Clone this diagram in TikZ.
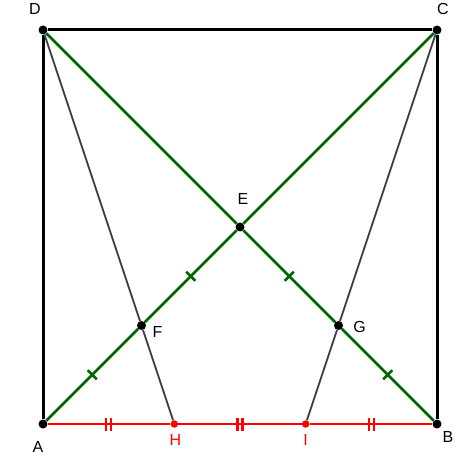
\documentclass[tikz,border=0pt]{standalone}
\usepackage{fontspec}
\setmainfont{Liberation Sans}
\usetikzlibrary{calc}
\definecolor{geogreen}{RGB}{0,100,0}
\definecolor{geogray}{RGB}{64,64,64}
\definecolor{geored}{RGB}{255,0,0}
\begin{document}
\begin{tikzpicture}[x=1pt,y=1pt,
  pt/.style={circle, fill, inner sep=0pt, minimum size=9pt},
  lbl/.style={font=\fontsize{16}{19}\selectfont, inner sep=0pt},
  side/.style={line width=3pt},
  diag/.style={geogreen, line width=2.5pt},
  cev/.style={geogray, line width=1.8pt},
  base/.style={geored, line width=2.3pt},
  tickg/.style={geogreen, line width=2.5pt},
  tickr/.style={geored, line width=2.2pt}]
\useasboundingbox (0,0) rectangle (474,456);
% square and points
\node[pt] (A) at (43,32){};
\node[pt] (B) at (437,32){};
\node[pt] (C) at (437,426){};
\node[pt] (D) at (43,426){};
\node[pt] (E) at ($(A)!0.5!(C)$){};
\node[pt] (F) at ($(A)!0.25!(C)$){};
\node[pt] (G) at ($(B)!0.25!(D)$){};
\node[pt, geored, minimum size=7.5pt] (H) at ($(A)!1/3!(B)$){};
\node[pt, geored, minimum size=7.5pt] (I) at ($(A)!2/3!(B)$){};
\draw[side] (A) -- (D);
\draw[side] (D) -- (C);
\draw[side] (C) -- (B);
\draw[diag] (A) -- (F);
\draw[diag] (F) -- (E);
\draw[diag] (E) -- (C);
\draw[diag] (D) -- (E);
\draw[diag] (E) -- (G);
\draw[diag] (G) -- (B);
\draw[cev] (D) -- (F);
\draw[cev] (F) -- (H);
\draw[cev] (C) -- (G);
\draw[cev] (G) -- (I);
\draw[base] (A) -- (H);
\draw[base] (H) -- (I);
\draw[base] (I) -- (B);
% equal parts
\coordinate (t1) at ($(A)!0.5!(F)$);
\coordinate (t2) at ($(F)!0.5!(E)$);
\coordinate (t3) at ($(E)!0.5!(G)$);
\coordinate (t4) at ($(G)!0.5!(B)$);
\foreach \t/\q in {t1/F, t2/E, t3/G, t4/B}
  \draw[tickg] ($(\t)!6.5pt!90:(\q)$) -- ($(\t)!6.5pt!-90:(\q)$);
\coordinate (m1) at ($(A)!0.5!(H)$);
\coordinate (m2) at ($(H)!0.5!(I)$);
\coordinate (m3) at ($(I)!0.5!(B)$);
\foreach \m in {m1, m2, m3}{
  \draw[tickr] ($(\m)+(-2.5,-6.5)$) -- ++(0,13);
  \draw[tickr] ($(\m)+(2.5,-6.5)$) -- ++(0,13);
}
% labels
\node[lbl] (lA) at ($(A)+(-5,-23)$) {A};
\node[lbl] (lB) at ($(B)+(11,-13)$) {B};
\node[lbl] (lC) at ($(C)+(6,21)$) {C};
\node[lbl] (lD) at ($(D)+(-8,21)$) {D};
\node[lbl] (lE) at ($(E)+(3,28)$) {E};
\node[lbl] (lF) at ($(F)+(16,-6)$) {F};
\node[lbl] (lG) at ($(G)+(21,-1)$) {G};
\node[lbl, geored] (lH) at ($(H)+(1,-16)$) {H};
\node[lbl, geored] (lI) at ($(I)+(0,-16)$) {I};
\end{tikzpicture}
\end{document}
